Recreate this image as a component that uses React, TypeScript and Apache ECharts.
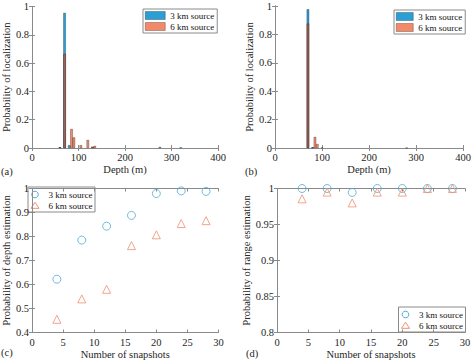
import React, { useEffect, useRef } from "react";
import * as echarts from "echarts";

// Panel (a): histogram of estimated depth (bin centres in m, probability)
const blueADepth = [60, 70, 80, 130, 275, 320];
const blueAProb = [0.005, 0.955, 0.02, 0.005, 0.008, 0.005];
const orangeADepth = [60, 70, 85, 90, 105, 120, 130, 135];
const orangeAProb = [0.005, 0.665, 0.135, 0.075, 0.02, 0.057, 0.01, 0.015];
// Panel (b)
const blueBDepth = [70, 80, 100, 280];
const blueBProb = [0.977, 0.005, 0.003, 0.002];
const orangeBDepth = [70, 80, 85, 90];
const orangeBProb = [0.876, 0.004, 0.078, 0.028];
// Panels (c) and (d)
const snapshots = [4, 8, 12, 16, 20, 24, 28];
const depthEst3 = [0.622, 0.785, 0.843, 0.888, 0.979, 0.99, 0.988];
const depthEst6 = [0.455, 0.54, 0.58, 0.762, 0.807, 0.854, 0.866];
const rangeEst3 = [1, 1, 0.9945, 1, 1, 1, 1];
const rangeEst6 = [0.9857, 0.995, 0.98, 0.995, 0.995, 1, 1];

const seriesNames = ["3 km source", "6 km source"];
const panelLabels = ["(a)", "(b)", "(c)", "(d)"];

const FONT = "'Liberation Serif', 'Times New Roman', Times, serif";
const TXT = "#262626";
const AX = "#8a8a8a";
const BLUE_FILL = "rgb(43,159,212)";
const ORANGE_FILL = "rgba(233,60,7,0.6)";
const BLUE_MK = "#4fa9d6";
const ORANGE_MK = "#ee9070";

const pairs = (xs: number[], ys: number[]) => xs.map((x, i) => [x, ys[i]]);

function axesFor(
  grid: number,
  x: [number, number, number],
  y: [number, number, number],
  xName: string,
  yName: string,
  yGap: number
) {
  const tick = { show: true, inside: true, length: 3, lineStyle: { color: AX, width: 1 } };
  const line = { show: true, lineStyle: { color: AX, width: 1 } };
  const label = { fontFamily: FONT, fontSize: 10.5, color: TXT, margin: 4 };
  const nameStyle = { fontFamily: FONT, fontSize: 10.5, color: TXT };
  const xs = [
    {
      type: "value", gridIndex: grid, position: "bottom", min: x[0], max: x[1], interval: x[2],
      axisLine: line, axisTick: tick, axisLabel: label, splitLine: { show: false },
      name: xName, nameLocation: "middle", nameGap: 16, nameTextStyle: nameStyle,
    },
    {
      type: "value", gridIndex: grid, position: "top", min: x[0], max: x[1], interval: x[2],
      axisLine: line, axisTick: tick, axisLabel: { show: false }, splitLine: { show: false },
    },
  ];
  const ys = [
    {
      type: "value", gridIndex: grid, position: "left", min: y[0], max: y[1], interval: y[2],
      axisLine: line, axisTick: tick, axisLabel: { ...label, margin: 3 }, splitLine: { show: false },
      name: yName, nameLocation: "middle", nameGap: yGap, nameTextStyle: nameStyle,
    },
    {
      type: "value", gridIndex: grid, position: "right", min: y[0], max: y[1], interval: y[2],
      axisLine: line, axisTick: tick, axisLabel: { show: false }, splitLine: { show: false },
    },
  ];
  return { xs, ys };
}

// Marker legend drawn as a graphic group (box, circle, triangle, two texts)
function markerLegend(x: number, y: number) {
  const w = 67;
  const h = 25;
  return {
    type: "group", left: x, top: y, z: 100,
    children: [
      { type: "rect", shape: { x: 0, y: 0, width: w, height: h }, style: { fill: "#fff", stroke: AX, lineWidth: 1 } },
      { type: "circle", shape: { cx: 7, cy: 7.5, r: 3.3 }, style: { fill: "none", stroke: BLUE_MK, lineWidth: 1 } },
      {
        type: "polygon", shape: { points: [[7, 15.3], [11, 21.3], [3, 21.3]] },
        style: { fill: "none", stroke: ORANGE_MK, lineWidth: 1 },
      },
      { type: "text", x: 20.5, y: 7.5, style: { text: seriesNames[0], fontFamily: FONT, fontSize: 9, fill: "#111", verticalAlign: "middle" } },
      { type: "text", x: 20.5, y: 18.8, style: { text: seriesNames[1], fontFamily: FONT, fontSize: 9, fill: "#111", verticalAlign: "middle" } },
    ],
  };
}

export default function App() {
  const ref = useRef<HTMLDivElement>(null);
  useEffect(() => {
    if (!ref.current) return;
    const chart = echarts.init(ref.current, undefined, { renderer: "svg" });
    const a = axesFor(0, [0, 400, 100], [0, 1, 0.2], "Depth (m)", "Probability of localization", 14);
    const b = axesFor(1, [0, 400, 100], [0, 1, 0.2], "Depth (m)", "Probability of localization", 14);
    const c = axesFor(2, [0, 30, 5], [0.4, 1, 0.1], "Number of snapshots", "Probability of depth estimation", 15);
    const d = axesFor(3, [0, 30, 5], [0.8, 1, 0.05], "Number of snapshots", "Probability of range estimation", 20);

    const barStyle = (color: string) => ({ color, borderColor: "rgba(0,0,0,0.55)", borderWidth: 0.5 });
    const bar = (name: string, ax: number, data: number[][], color: string) => ({
      type: "bar", name, xAxisIndex: ax, yAxisIndex: ax, data, barWidth: 2.6, barGap: "-100%",
      itemStyle: barStyle(color), emphasis: { disabled: true },
    });
    const scat = (name: string, ax: number, data: number[][], symbol: string, color: string, size: number) => ({
      type: "scatter", name, xAxisIndex: ax, yAxisIndex: ax, data, symbol, symbolSize: size, clip: false,
      itemStyle: { color: "transparent", borderColor: color, borderWidth: 1 }, emphasis: { disabled: true },
    });

    const legendText = { fontFamily: FONT, fontSize: 9, color: "#111" };
    const barLegend = (left: number, top: number, w: number) => ({
      orient: "vertical", left, top, padding: [2, 3, 2, 2], itemGap: 2, itemWidth: w, itemHeight: 8,
      backgroundColor: "#fff", borderColor: AX, borderWidth: 1, textStyle: legendText, selectedMode: false,
      data: [
        { name: seriesNames[0], icon: "rect", itemStyle: barStyle(BLUE_FILL) },
        { name: seriesNames[1], icon: "rect", itemStyle: barStyle(ORANGE_FILL) },
      ],
    });

    const panelText = (i: number, x: number, y: number) => ({
      type: "text", left: x, top: y,
      style: { text: panelLabels[i], fontFamily: FONT, fontSize: 10.5, fill: TXT },
    });

    chart.setOption({
      animation: false,
      backgroundColor: "#fff",
      grid: [
        { left: 28, top: 6.5, width: 190, height: 141.5 },
        { left: 275, top: 6, width: 190, height: 142 },
        { left: 28, top: 188.5, width: 190.5, height: 144 },
        { left: 277, top: 188.5, width: 188, height: 144 },
      ],
      xAxis: [...a.xs, ...b.xs, ...c.xs, ...d.xs],
      yAxis: [...a.ys, ...b.ys, ...c.ys, ...d.ys],
      legend: [barLegend(143, 9, 20), barLegend(394, 10, 17)],
      series: [
        bar(seriesNames[0], 0, pairs(blueADepth, blueAProb), BLUE_FILL),
        bar(seriesNames[1], 0, pairs(orangeADepth, orangeAProb), ORANGE_FILL),
        bar(seriesNames[0], 2, pairs(blueBDepth, blueBProb), BLUE_FILL),
        bar(seriesNames[1], 2, pairs(orangeBDepth, orangeBProb), ORANGE_FILL),
        scat(seriesNames[0], 4, pairs(snapshots, depthEst3), "circle", BLUE_MK, 8),
        scat(seriesNames[1], 4, pairs(snapshots, depthEst6), "triangle", ORANGE_MK, 8),
        scat(seriesNames[0], 6, pairs(snapshots, rangeEst3), "circle", BLUE_MK, 8),
        scat(seriesNames[1], 6, pairs(snapshots, rangeEst6), "triangle", ORANGE_MK, 8),
      ],
      graphic: [
        panelText(0, 1, 166), panelText(1, 245, 166), panelText(2, 1, 347), panelText(3, 246, 348),
        markerLegend(27.5, 186.5), markerLegend(398, 306.5),
      ],
    });
    return () => chart.dispose();
  }, []);
  return (
    <div
      ref={ref}
      style={{ position: "absolute", left: 0, top: 0, width: 474, height: 362, background: "#fff" }}
    />
  );
}
